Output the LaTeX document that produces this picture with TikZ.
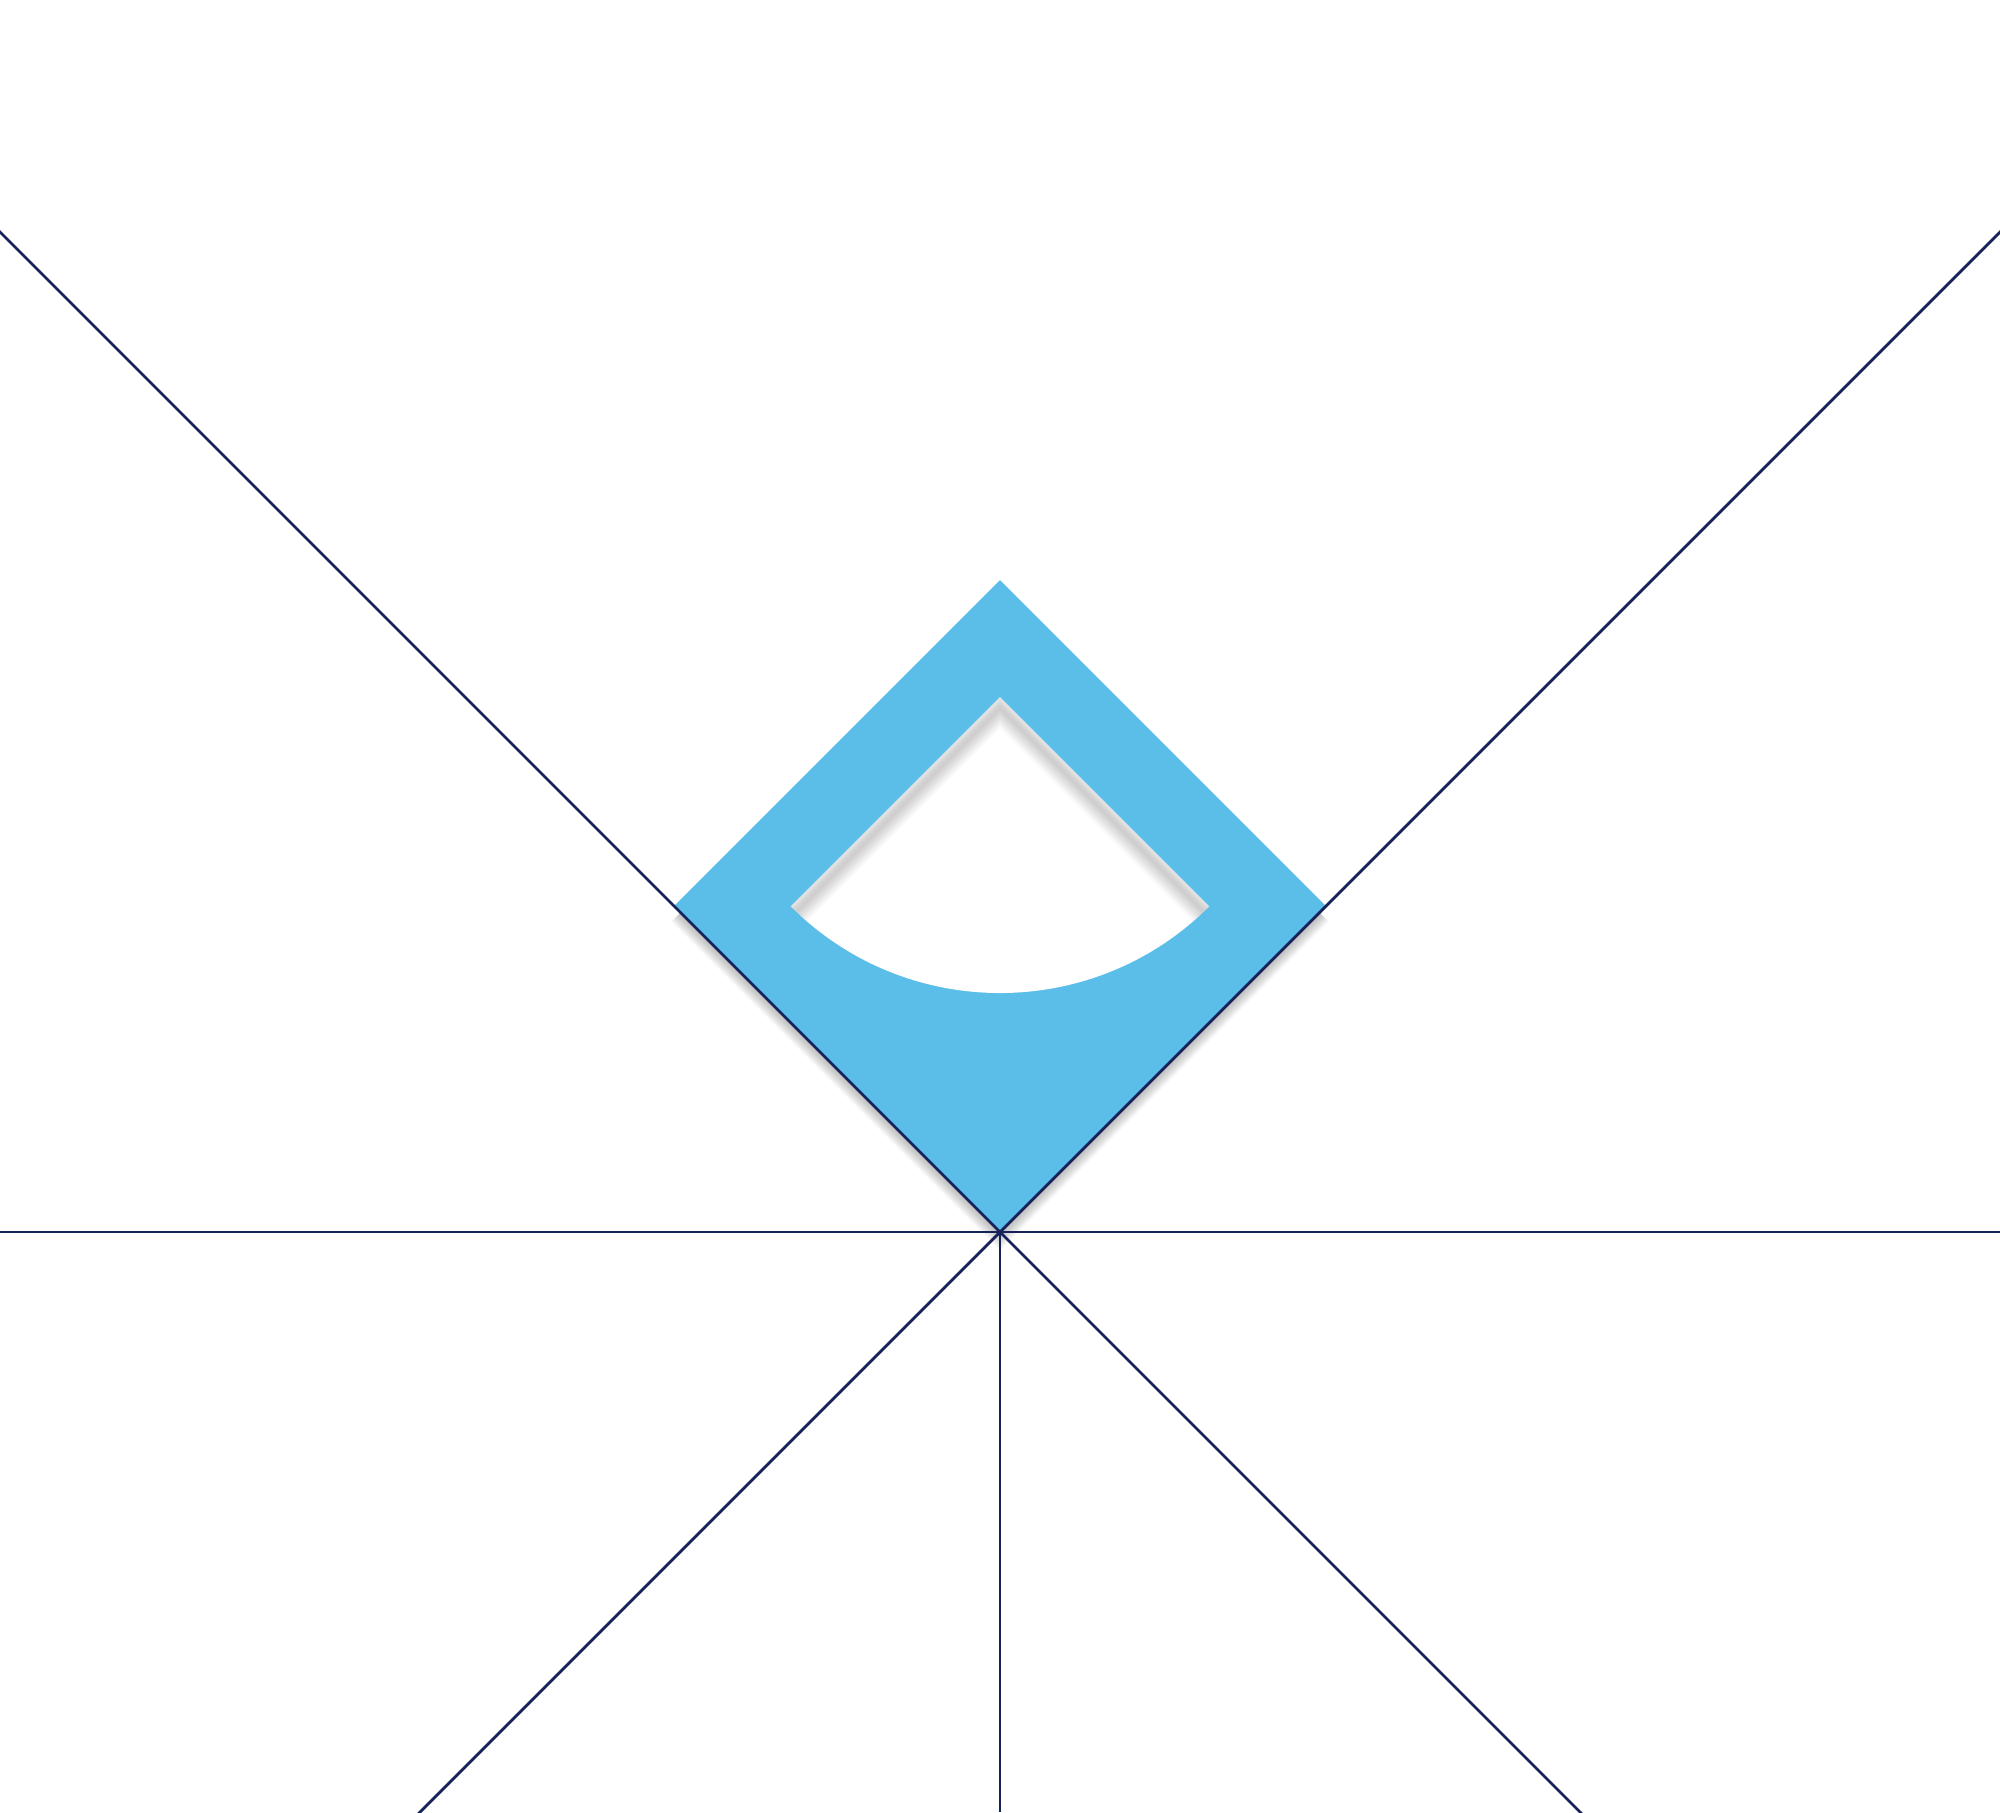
\documentclass[tikz,border=0pt]{standalone}
\usetikzlibrary{calc}
\definecolor{navy}{HTML}{16235A}
\definecolor{sky}{HTML}{5ABEE8}
\tikzset{axisline/.style={navy,line width=1.4pt}}
\begin{document}
\begin{tikzpicture}[x=0.5pt,y=-0.5pt]
\useasboundingbox (0,0) rectangle (2000,1812);
\coordinate (c) at (1000,1232);
\coordinate (t) at (1000,580);
\coordinate (l) at (674,906);
\coordinate (r) at (1326,906);
\coordinate (it) at (1000,697);
\coordinate (ul) at (-2,230);
\coordinate (ur) at (2002,230);
\coordinate (hl) at (0,1232);
\coordinate (hr) at (2000,1232);
\coordinate (bl) at (418,1814);
\coordinate (bm) at (1000,1812);
\coordinate (br) at (1582,1814);
% drop shadow of the diamond (lower edges only)
\foreach \w in {3,6,9,12,15,18,21,24}{
  \draw[black,opacity=0.035,line width=\w*0.5pt,line join=miter,line cap=butt,
        transform canvas={shift={(0,7)}}]
    (680,906)--(1000,1226)--(1320,906);
}
\fill[sky] (t)--(r)--(c)--(l)--cycle;
% hole (sector)
\fill[white] (it) -- ++(135:296) arc[start angle=135,end angle=45,radius=296] -- cycle;
% inner shadow
\begin{scope}
\clip (it) -- ++(135:296) arc[start angle=135,end angle=45,radius=296] -- cycle;
\foreach \w in {4,8,12,16,20,24,28}{
  \draw[black,opacity=0.028,line width=\w*0.5pt,line join=miter,
        transform canvas={shift={(0,11)}}]
    (600,1097) -- (1000,697) -- (1400,1097);
}
\end{scope}
% lines
\draw[axisline] (ul) -- (c) -- (ur);
\draw[axisline] (hl) -- (hr);
\draw[axisline] (c) -- (bl);
\draw[axisline] (c) -- (bm);
\draw[axisline] (c) -- (br);
\end{tikzpicture}
\end{document}
